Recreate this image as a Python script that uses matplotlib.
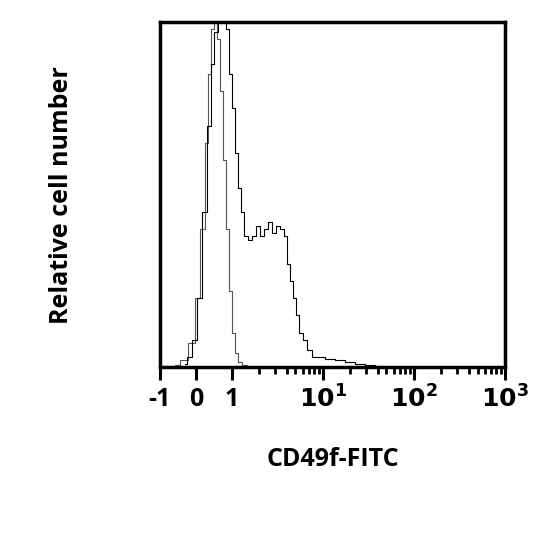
import numpy as np
import matplotlib
matplotlib.use("Agg")
import matplotlib.pyplot as plt
from matplotlib.scale import FuncScale

plt.rcParams['font.family'] = ['Open Sans', 'DejaVu Sans']

# Stained sample (broad, with shoulder)
stained_x = [-0.31, -0.17, -0.03, 0.11, 0.25, 0.39, 0.47, 0.56, 0.67, 0.78, 0.89, 0.97,
             1.05, 1.13, 1.22, 1.32, 1.42, 1.58, 1.75, 1.93, 2.14, 2.36, 2.62, 2.89, 3.20,
             3.54, 3.92, 4.23, 4.56, 4.92, 5.31, 5.73, 6.34, 7.19, 8.17, 9.27, 11.9, 15.4,
             19.8, 25.5, 32.9, 42.4, 54.6, 70.4]
stained_y = [0.01, 0.03, 0.08, 0.2, 0.45, 0.7, 0.88, 0.97, 1.02, 1.02, 0.98, 0.85,
             0.75, 0.62, 0.52, 0.45, 0.38, 0.37, 0.38, 0.41, 0.38, 0.40, 0.42, 0.39, 0.41,
             0.40, 0.38, 0.30, 0.25, 0.20, 0.15, 0.10, 0.08, 0.05, 0.03, 0.03, 0.025, 0.02,
             0.015, 0.01, 0.006, 0.003, 0.001, 0.0]

# Isotype control (narrow)
iso_x = [-0.58, -0.31, -0.11, 0.06, 0.19, 0.31, 0.39, 0.47, 0.56, 0.64, 0.72, 0.81,
         0.89, 0.97, 1.05, 1.13, 1.22, 1.39, 1.58]
iso_y = [0.005, 0.02, 0.07, 0.2, 0.4, 0.65, 0.85, 0.98, 1.02, 0.95, 0.8, 0.6,
         0.4, 0.22, 0.1, 0.04, 0.015, 0.005, 0.0]

major_ticks = [-1, 0, 1, 10, 100, 1000]
major_labels = ['-1', '0', '1', r'$\mathbf{10^1}$', r'$\mathbf{10^2}$', r'$\mathbf{10^3}$']

def fwd(v):
    v = np.asarray(v, dtype=float)
    return np.where(v <= 1, (v + 1) * 36.0, 72 + 91 * np.log10(np.maximum(v, 1e-9)))

def inv(p):
    p = np.asarray(p, dtype=float)
    return np.where(p <= 72, p / 36.0 - 1, 10 ** ((p - 72) / 91.0))

fig = plt.figure(figsize=(5.4, 5.4), dpi=100)
ax = fig.add_axes([0.296, 0.320, 0.639, 0.639])
ax.set_xscale(FuncScale(ax, (fwd, inv)))
ax.step(iso_x, iso_y, where='mid', color='#555555', lw=0.8)
ax.step(stained_x, stained_y, where='mid', color='black', lw=0.8)
ax.set_xlim(-1, 1000)
ax.set_ylim(0, 1.0)
ax.set_xticks(major_ticks)
ax.set_xticklabels(major_labels, fontsize=18, fontweight='bold')
minors = [m * d for d in (1, 10, 100) for m in range(2, 10)]
ax.set_xticks(minors, minor=True)
ax.set_yticks([])
ax.tick_params(axis='x', which='major', length=9, width=2.2, direction='out', pad=5)
ax.tick_params(axis='x', which='minor', length=5, width=2.0, direction='out')
for s in ax.spines.values():
    s.set_linewidth(2.5)
ax.set_xlabel('CD49f-FITC', fontsize=18, fontweight='bold', labelpad=24)
ax.set_ylabel('Relative cell number', fontsize=18, fontweight='bold', labelpad=62)
fig.savefig('out.png', dpi=100)
